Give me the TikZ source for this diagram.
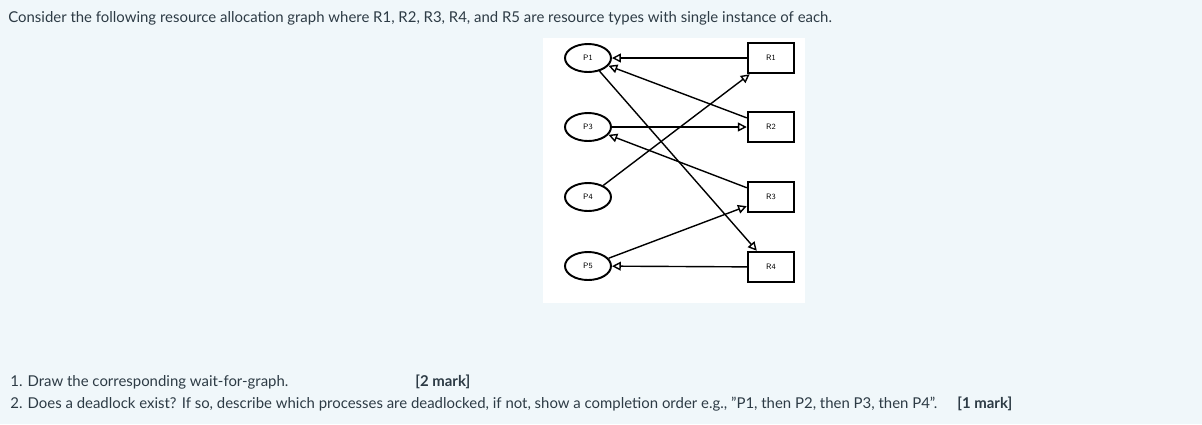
\documentclass[tikz,border=0pt]{standalone}
\usepackage{fontspec}
\setmainfont{Lato}
\usetikzlibrary{arrows.meta,shapes.geometric}
\definecolor{pagebg}{HTML}{F0F7FA}
\definecolor{txtgray}{HTML}{2D3B45}
\newlength{\unitlen}\setlength{\unitlen}{0.02cm}
\tikzset{
  proc/.style={draw,line width=1.1pt,ellipse,minimum width=46\unitlen,minimum height=28\unitlen,inner sep=0pt,font=\fontsize{4.5}{5}\selectfont\sffamily},
  res/.style={draw,line width=1.4pt,minimum width=46\unitlen,minimum height=30\unitlen,inner sep=0pt,font=\fontsize{4.5}{5}\selectfont\sffamily},
  edge/.style={-{Triangle[open,length=5pt,width=5pt]},thick},
  txt/.style={anchor=west,inner sep=0pt,text=txtgray,font=\fontsize{8.5}{10}\selectfont}
}
\begin{document}
\begin{tikzpicture}[x=0.02cm,y=-0.02cm]
\fill[pagebg] (0,0) rectangle (1202,424);
\useasboundingbox (0,0) rectangle (1202,424);
\fill[white] (543,38) rectangle (805,303);

% processes and resources
\node[proc] (p1) at (588,58) {P1};
\node[proc] (p3) at (588,127) {P3};
\node[proc] (p4) at (588,197) {P4};
\node[proc] (p5) at (588,266) {P5};
\node[res] (r1) at (771,58) {R1};
\node[res] (r2) at (771,127) {R2};
\node[res] (r3) at (771,197) {R3};
\node[res] (r4) at (771,267) {R4};

% edges
\draw[edge] (r1) -- (p1);
\draw[edge] (r2) -- (p1);
\draw[edge] (p3) -- (r2);
\draw[edge] (p4) -- (r1);
\draw[edge] (r3) -- (p3);
\draw[edge] (p1) -- (r4);
\draw[edge] (p5) -- (r3);
\draw[edge] (r4) -- (p5);

% texts
\node[txt] (q) at (8,18) {Consider the following resource allocation graph where R1, R2, R3, R4, and R5 are resource types with single instance of each.};
\node[txt] (q1) at (10,382) {1. Draw the corresponding wait-for-graph.};
\node[txt] (m1) at (415,382) {\bfseries [2 mark]};
\node[txt] (q2) at (10,404) {2. Does a deadlock exist? If so, describe which processes are deadlocked, if not, show a completion order e.g., \symbol{34}P1, then P2, then P3, then P4\symbol{34}.};
\node[txt] (m2) at (957,404) {\bfseries [1 mark]};
\end{tikzpicture}
\end{document}
